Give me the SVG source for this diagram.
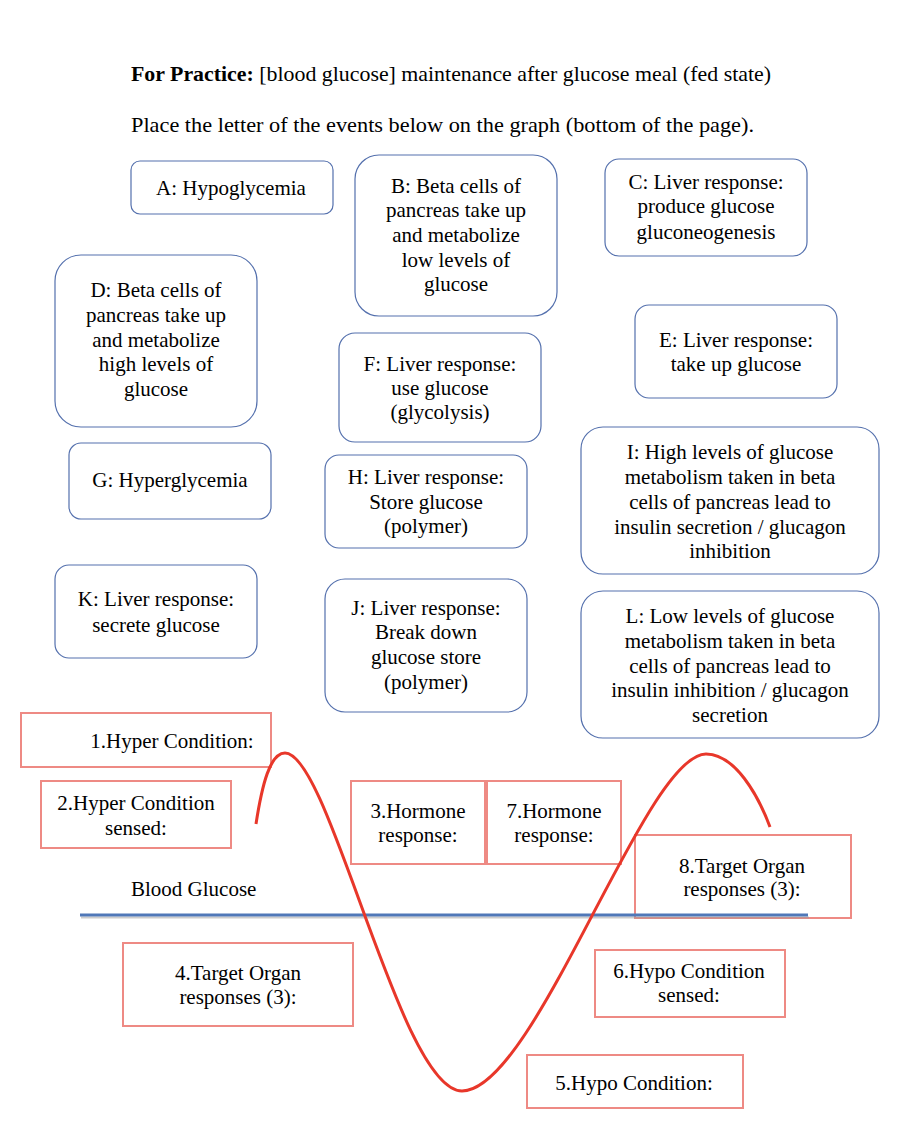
<svg xmlns="http://www.w3.org/2000/svg" width="898" height="1132" viewBox="0 0 898 1132">
<style>
text{font-family:"Liberation Serif","Times New Roman",serif;font-size:21px;fill:#000}
.c{text-anchor:middle}
.b{font-weight:bold}
.ev{fill:#fff;stroke:#5470ad;stroke-width:1.2}
.slot{fill:#fff;stroke:#ee8a84;stroke-width:2}
.curve{fill:none;stroke:#e8372a;stroke-width:3}
</style>
<rect width="898" height="1132" fill="#fff"/>
<g id="title">
<text x="131" y="81" textLength="640" lengthAdjust="spacingAndGlyphs"><tspan class="b">For Practice:</tspan> [blood glucose] maintenance after glucose meal (fed state)</text>
<text x="131" y="132" textLength="623" lengthAdjust="spacingAndGlyphs">Place the letter of the events below on the graph (bottom of the page).</text>
</g>
<g id="A"><rect class="ev" x="131" y="161" width="202" height="53" rx="9"/><text class="c" x="231" y="195">A: Hypoglycemia</text></g>
<g id="B"><rect class="ev" x="355" y="155" width="202" height="161" rx="24"/>
<text class="c" x="456" y="193">B: Beta cells of</text><text class="c" x="456" y="217">pancreas take up</text><text class="c" x="456" y="242">and metabolize</text><text class="c" x="456" y="267">low levels of</text><text class="c" x="456" y="291">glucose</text></g>
<g id="C"><rect class="ev" x="605" y="159" width="202" height="97" rx="14"/>
<text class="c" x="706" y="189">C: Liver response:</text><text class="c" x="706" y="213">produce glucose</text><text class="c" x="706" y="239">gluconeogenesis</text></g>
<g id="D"><rect class="ev" x="55" y="255" width="202" height="172" rx="26"/>
<text class="c" x="156" y="297">D: Beta cells of</text><text class="c" x="156" y="322">pancreas take up</text><text class="c" x="156" y="347">and metabolize</text><text class="c" x="156" y="371">high levels of</text><text class="c" x="156" y="396">glucose</text></g>
<g id="E"><rect class="ev" x="635" y="305" width="202" height="93" rx="14"/>
<text class="c" x="736" y="347">E: Liver response:</text><text class="c" x="736" y="371">take up glucose</text></g>
<g id="F"><rect class="ev" x="339" y="333" width="202" height="109" rx="16"/>
<text class="c" x="440" y="371">F: Liver response:</text><text class="c" x="440" y="395">use glucose</text><text class="c" x="440" y="419">(glycolysis)</text></g>
<g id="G"><rect class="ev" x="69" y="443" width="202" height="76" rx="12"/><text class="c" x="170" y="487">G: Hyperglycemia</text></g>
<g id="H"><rect class="ev" x="325" y="455" width="202" height="93" rx="14"/>
<text class="c" x="426" y="484">H: Liver response:</text><text class="c" x="426" y="509">Store glucose</text><text class="c" x="426" y="533">(polymer)</text></g>
<g id="I"><rect class="ev" x="581" y="427" width="298" height="147" rx="22"/>
<text class="c" x="730" y="459">I: High levels of glucose</text><text class="c" x="730" y="484">metabolism taken in beta</text><text class="c" x="730" y="509">cells of pancreas lead to</text><text class="c" x="730" y="534">insulin secretion / glucagon</text><text class="c" x="730" y="558">inhibition</text></g>
<g id="K"><rect class="ev" x="55" y="565" width="202" height="93" rx="14"/>
<text class="c" x="156" y="606">K: Liver response:</text><text class="c" x="156" y="632">secrete glucose</text></g>
<g id="J"><rect class="ev" x="325" y="579" width="202" height="133" rx="20"/>
<text class="c" x="426" y="615">J: Liver response:</text><text class="c" x="426" y="639">Break down</text><text class="c" x="426" y="664">glucose store</text><text class="c" x="426" y="689">(polymer)</text></g>
<g id="L"><rect class="ev" x="581" y="591" width="298" height="147" rx="22"/>
<text class="c" x="730" y="623">L: Low levels of glucose</text><text class="c" x="730" y="648">metabolism taken in beta</text><text class="c" x="730" y="673">cells of pancreas lead to</text><text class="c" x="730" y="697">insulin inhibition / glucagon</text><text class="c" x="730" y="722">secretion</text></g>
<g id="s1"><rect class="slot" x="21" y="713" width="250" height="54"/><text class="c" x="172" y="748">1.Hyper Condition:</text></g>
<g id="s2"><rect class="slot" x="41" y="781" width="190" height="67"/><text class="c" x="136" y="810">2.Hyper Condition</text><text class="c" x="136" y="835">sensed:</text></g>
<g id="s3"><rect class="slot" x="351" y="781" width="134" height="83"/><text class="c" x="418" y="818">3.Hormone</text><text class="c" x="418" y="842">response:</text></g>
<g id="s7"><rect class="slot" x="487" y="781" width="134" height="83"/><text class="c" x="554" y="818">7.Hormone</text><text class="c" x="554" y="842">response:</text></g>
<g id="s8"><rect class="slot" x="635" y="835" width="216" height="83"/><text class="c" x="742" y="873">8.Target Organ</text><text class="c" x="742" y="896">responses (3):</text></g>
<g id="s4"><rect class="slot" x="123" y="943" width="230" height="83"/><text class="c" x="238" y="980">4.Target Organ</text><text class="c" x="238" y="1004">responses (3):</text></g>
<g id="s6"><rect class="slot" x="595" y="950" width="190" height="67"/><text class="c" x="689" y="978">6.Hypo Condition</text><text class="c" x="689" y="1002">sensed:</text></g>
<g id="s5"><rect class="slot" x="527" y="1055" width="216" height="53"/><text class="c" x="634" y="1090">5.Hypo Condition:</text></g>
<g id="axis">
<line x1="81" y1="917.5" x2="809" y2="917.5" stroke="#9a9a9a" stroke-width="2" opacity="0.5"/>
<line x1="80" y1="915" x2="808" y2="915" stroke="#5078b8" stroke-width="3"/>
<text x="131" y="896">Blood Glucose</text>
</g>
<g id="connectors">
<path class="curve" d="M256,824 C262,785 270,753 285,753 C330,753 400,1091 462,1091 C535,1091 645,754 706,754 C735,754 758,795 770,827"/>
</g>
</svg>
